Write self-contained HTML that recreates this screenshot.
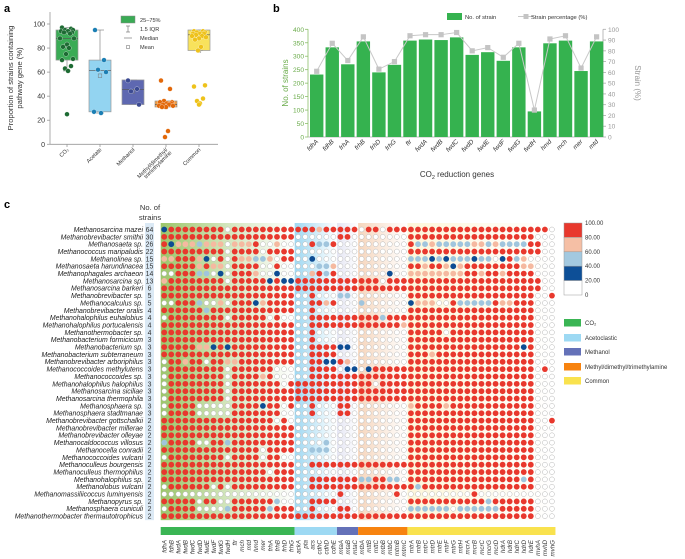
<!DOCTYPE html>
<html><head><meta charset="utf-8">
<style>
html,body{margin:0;padding:0;background:#fff;}
svg{display:block;font-family:"Liberation Sans",Arial,sans-serif;}
</style></head>
<body>
<svg id="fig" width="685" height="559" viewBox="0 0 685 559" xmlns="http://www.w3.org/2000/svg">
<defs>
<linearGradient id="gCO2" x1="0" x2="1" y1="0" y2="0"><stop offset="0" stop-color="#9cc66a"/><stop offset="0.5" stop-color="#d3e6bd"/><stop offset="1" stop-color="#ffffff"/></linearGradient>
<linearGradient id="gAc" x1="0" x2="1" y1="0" y2="0"><stop offset="0" stop-color="#9fd8f2"/><stop offset="1" stop-color="#ffffff"/></linearGradient>
<linearGradient id="gMe" x1="0" x2="1" y1="0" y2="0"><stop offset="0" stop-color="#e4e5f3"/><stop offset="1" stop-color="#ffffff"/></linearGradient>
<linearGradient id="gMy" x1="0" x2="1" y1="0" y2="0"><stop offset="0" stop-color="#f6d6bd"/><stop offset="1" stop-color="#ffffff"/></linearGradient>
<linearGradient id="gCm" x1="0" x2="1" y1="0" y2="0"><stop offset="0" stop-color="#fdf6da"/><stop offset="1" stop-color="#ffffff"/></linearGradient>
</defs>
<text x="4" y="12" font-size="11" font-weight="bold">a</text>
<text x="273" y="12" font-size="11" font-weight="bold">b</text>
<text x="4" y="208" font-size="11" font-weight="bold">c</text>
<g id="pa"></g>
<g id="pb"></g>
<g id="pc"></g>
</svg>
<script>
// ---------- Panel a data ----------
const aCategories = ["CO\u2082","Acetate","Methanol","Methyl/dimethyl/\ntrimethylamine","Common"];
const aQ1 = [70, 27, 33, 31, 78];
const aQ3 = [95, 70, 53.5, 36, 95];
const aMedian = [88, 61.5, 45.5, 33, 91];
const aMean = [82, 57, 44, 31, 78];
const aWhiskerLow = [61, 26, 33, 31, 78];
const aWhiskerHigh = [97, 95, 53.5, 36, 95];
const aPointsCO2 = [97,96,95,95,94,94,93,93,92,88,88,83,81,80,75,71,70,65,63,61,25];
const aPointsAcetate = [95,70,62,60,27,26];
const aPointsMethanol = [53,46,44,33];
const aPointsMethyl = [53,46,36,35,35,34,34,33,33,32,32,31,31,11,6];
const aPointsCommon = [94,94,93,93,92,92,92,91,90,90,89,88,87,81,78,49,48,38,36,34,33];
const aYTicks = [0,20,40,60,80,100];

// ---------- Panel b data ----------
const bGenes = ["fdhA","fdhB","frhA","frhB","frhD","frhG","ftr","fwdA","fwdB","fwdC","fwdD","fwdE","fwdF","fwdG","fwdH","hmd","mch","mer","mtd"];
const bCounts = [232,333,270,355,240,268,358,362,360,370,305,315,283,333,95,348,358,245,355];
const bPercent = [61,87,71,93,63,70,94,95,95,97,80,83,74,87,25,91,94,64,93];
const bLeftTicks = [0,50,100,150,200,250,300,350,400];
const bRightTicks = [0,10,20,30,40,50,60,70,80,90,100];

// ---------- Panel c data ----------
const cSpecies = ["Methanosarcina mazei","Methanobrevibacter smithii","Methanosaeta sp.","Methanococcus maripaludis","Methanolinea sp.","Methanosaeta harundinacea","Methanophagales archaeon","Methanosarcina sp.","Methanosarcina barkeri","Methanobrevibacter sp.","Methanocalculus sp.","Methanobrevibacter oralis","Methanohalophilus euhalobius","Methanohalophilus portucalensis","Methanothermobacter sp.","Methanobacterium formicicum","Methanobacterium sp.","Methanobacterium subterraneum","Methanobrevibacter arboriphilus","Methanococcoides methylutens","Methanococcoides sp.","Methanohalophilus halophilus","Methanosarcina siciliae","Methanosarcina thermophila","Methanosphaera sp.","Methanosphaera stadtmanae","Methanobrevibacter gottschalkii","Methanobrevibacter millerae","Methanobrevibacter olleyae","Methanocaldococcus villosus","Methanocella conradii","Methanococcoides vulcani","Methanoculleus bourgensis","Methanoculleus thermophilus","Methanohalophilus sp.","Methanolobus vulcani","Methanomassiliicoccus luminyensis","Methanopyrus sp.","Methanosphaera cuniculi","Methanothermobacter thermautotrophicus"];
const cCounts = [64,30,26,22,15,15,14,13,6,5,5,4,4,4,4,3,3,3,3,3,3,3,3,3,3,3,2,2,2,2,2,2,2,2,2,2,2,2,2,2];
const cGenes = ["fdhA","fdhB","fwdA","fwdB","fwdC","fwdD","fwdE","fwdF","fwdG","fwdH","ftr","mch","mtd","hmd","mer","frhA","frhB","frhD","frhG","ackA","pta","acs","cdhC","cdhD","cdhE","mtaA","mtaB","mtaC","mtbA","mttB","mttC","mtbB","mtbC","mtmB","mtmC","mtrA","mtrB","mtrC","mtrD","mtrE","mtrF","mtrG","mtrH","mcrA","mcrB","mcrC","mcrG","mcrD","hdrA","hdrB","hdrC","hdrD","hdrE","mvhA","mvhD","mvhG"];
const cGroups = ["CO2","Acetoclastic","Methanol","Methyl/dimethyl/trimethylamine","Common"];
const cGroupSizes = [19,6,3,7,21];
// percentage classes: R=80-100, P=60-80, L=40-60, B=20-40, W=0-20
const cMatrix = [
"BRRRRRRRRWRRRRRRRRR RRRPRR RRR WRRWRRR RRRRRRRRRRRRRRRRRRRRW",
"RRRRRRRRRRRRRRRRRRR WWWWWW RRW WWWWWWW RRRRRRRRRRRRRRRRRRWWW",
"RBPPPLPPPWPPPRWWPWW WWRLLR WWW WWWWWWW RLLPLLLLLPPLPLLLLRRWW",
"RRRRRRRRRWRRRRWRRRR WWWWWW WWW WWWWWWW RRRRRRRRRRRRRRRRRRRWW",
"PPRRRPBWRWRPPLLPWRR WWBWWW WWW WWWWWWW LLLBLBLLLBLLWBRLPWWWW",
"RRRRRPRPPWRRRRWWRWW WWWLLP WWW WWWWWWW RRPRRPBPRRRRRRRRPPWWW",
"WWRRRLLWBWRRRPWWBWW WWPRLR WWW WWWWBWW PPPPPPPPRRPRRPRRRRWWW",
"PRRRRRRRRWRRRRRBRBB RRRRRR RRR RRRWRRR RRRRRRRRRRRRRRRRRRRWW",
"RRRRRRRRRRRRRRRRRRR RRRRRR RRR RRRRRRR RRRRRRRRRRRRRRRRRRRWW",
"RRRRRRRRRRRRRRRRRRR WWRWWW LLW WWWWWWW RRRRRRRRRRRRRRRRRRWWR",
"WWRRRLWWPWRRRBPRRRR WWRRPR WWW LWWWWWW BPPPWWRLLLLLRPPRRRWWW",
"RRRRRRLRRRRRRRRRRRR WWRWWW WWW WWWWWWW RRRRRRRRRRRRRRRRRRWWW",
"WRRRRRRRRWRRRRRWRWW WWRRRR RRR RRRLRRR RRRRRRRRRRRRRRRRRRWWW",
"RRRRRRRRRRRRRRRRRRR WWRRRR RRR RRRRRRP RRRRRRRRRRRRRRRRRRWWW",
"RRRRRRRRRRRRRRRRRRR WWRWWW WWW WWWWWWW RRRRRWRRRRRRRRRRRRWWW",
"RRRRRRRRRRRRRRRRRRR WWRWWW WWW WWWWWWW RRRRRRRRRRRRRRRRRRWWW",
"RRRRRPPBRBRRRRRRRRR WWRRRR BBW WWWWWWW RRRRRRRRRRRRRRRRBRWWW",
"RRRRRRRRRRRRRRRRRRR WWRRRR WWW WWWWWWW RRRPRRRRRRRRRRRRRRWWW",
"WRRPRRWRRPPRRRRRRRR WWRRBB RPW WWWWWWW RRRRRRRRRRRRRRRRRRWWW",
"WRRRRRRRRWRRRRRRWWW WWRRRR WBB WBRRRRR RRRRRRRRRRRRRRRRRRWRW",
"WRRRRRRRRWRRRRPRWWW WWRRRR RRR RRRRRRR RRRRRRRRRRRRRRRRRRWWW",
"WRRRRRRRRWRRRRRRRWR RRRRRR RRR RRWRRRR RRRRRRRRRRRRRRRRRRWWW",
"WRRRRRRRRWRRRRRRRRR RRRRRR RRR RRRRRRR RRRRRRRRRRRRRRRRRRWWW",
"WRRRRRRRRWRRRRRRRRR RRRRRR RRR RRRRRRR RRRRRRRRRRRRRRRRRRWWW",
"WRRRRWWWWWRRRRBRRWR WWRWWW RRW WWWWWWW PRRRRPRRRRRRRRRRRRWWW",
"WRRRRWWWWWRRRRRRRWW WWRWWW RRW WWWWWWW RRRRRRRRRRRRRRRRRRWWW",
"RRRRRRRRRRRRRRRRWRW WWWWWW WWW WWWWWWW RRRRRRRRRRRRRRRRRRWWR",
"RRRRRRRRRRRRRRRRRRR WWWWWW WWW WWWWWWW RRRRRRRRRRRRRRRRRRWWW",
"RRRRRRRRRRRRRRRRRRR WWWWWW WWW WWWWWWW RRRRRRRRRRRRRRRRRRWWW",
"LRRRRWWRRLRRRRRRRRR WWWWLW WWW WWWWWWW RRRRRRRRRRRRRRRRRRWWW",
"RRRRRRRRRRRRRRWRRRR WWLLLW WWW WWWWWWW RRRRRRRRRRRRRRRRRRWWW",
"WRRRRRRRRWRRRRWRRWW WWWWWW WWW WWWWWWW RRRRRRRRRRRRRRRRRRWWW",
"RRRRRRRRRRRRRRRRRRR WWRRRR RRR RRRRRRR RRRRRRRRRRRRRRRRRRWWW",
"RRRRRRRRRRRRRRRWRRR WWWWWW WWW WWWWWWW RRRRRRRRRRRRRRRRRRWWW",
"RRRRRRRRRRRRRRRRRRR WWRRRR RRR LLRRLLW RRRRRRRRRRRRRRRRLRWWW",
"WRRRRRRWRWRRRRRRRRR WWRRRR RRR RRRRRRR RLRRRRRRRRRRRRRRRRWWW",
"WWWWWWWWWWWWWWWWWWW WWWWWW RWW WWWWWRW WWWWWWWWWRWWWWWWWWWWW",
"RRRRRWRRWWRRRRRRLWW WWRRRR WWW WWWWWWW RRRRRRRRRRRLRRRRRRWWW",
"WRRRRWWWWLRRRRRLRRR WWRWWW RRW WWWWWWW LLLLLLWLLLLLLRRRRRWWW",
"RRRRRRRRRRRRRRRRRRR RRRRRR RRR RRRRRRR RRRRRRRRRRRRRRRRRRWWW"
];
const cScaleLabels = ["100.00","80.00","60.00","40.00","20.00","0"];

// ---------- helpers ----------
const NS="http://www.w3.org/2000/svg";
function mk(parent, tag, attrs, txt){
  const e=document.createElementNS(NS,tag);
  for(const k in attrs) e.setAttribute(k,attrs[k]);
  if(txt!==undefined) e.textContent=txt;
  parent.appendChild(e); return e;
}

// ---------- Panel a ----------
(function(){
  const g=document.getElementById('pa');
  const x0=50, x1=218, yTop=12;
  const ya=v=>144.3 - v*1.203;
  const xa=i=>67 + i*33;
  let e=mk(g,'line',{x1:x0,y1:yTop,x2:x0,y2:144.3,stroke:'#999','stroke-width':0.8});
   
  e=mk(g,'line',{x1:x0,y1:144.3,x2:x1,y2:144.3,stroke:'#999','stroke-width':0.8});
   
  aYTicks.forEach(t=>{
    mk(g,'line',{x1:x0-3,y1:ya(t),x2:x0,y2:ya(t),stroke:'#999','stroke-width':0.8});
    e=mk(g,'text',{x:x0-5,y:ya(t)+2.5,'font-size':7,'text-anchor':'end',fill:'#333'},String(t));
     
  });
  e=mk(g,'text',{transform:'translate(13,78) rotate(-90)','font-size':7.6,'text-anchor':'middle',fill:'#333'},'Proportion of strains containing');
   
  e=mk(g,'text',{transform:'translate(22,78) rotate(-90)','font-size':7.6,'text-anchor':'middle',fill:'#333'},'pathway gene (%)');
   
  const fills=['#3aab55','#93d4f1','#5e68b1','#f39a3c','#f8e25c'];
  const dots=['#1d6b33','#1b7fb4','#3b4a92','#e2680a','#eec21a'];
  const pts=[aPointsCO2,aPointsAcetate,aPointsMethanol,aPointsMethyl,aPointsCommon];
  const jit=[-5,4,-2,6,-6,1,5,-3,3,-7,7,0,-4,2,-1,6,-5,4,-2,1,0];
  aCategories.forEach((c,i)=>{
    const cx=xa(i), w=11;
    e=mk(g,'line',{x1:cx,y1:ya(aWhiskerHigh[i]),x2:cx,y2:ya(aWhiskerLow[i]),stroke:'#888','stroke-width':0.7});
     
    [aWhiskerHigh[i],aWhiskerLow[i]].forEach(v=>mk(g,'line',{x1:cx-4,y1:ya(v),x2:cx+4,y2:ya(v),stroke:'#888','stroke-width':0.7}));
    e=mk(g,'rect',{x:cx-w,y:ya(aQ3[i]),width:2*w,height:ya(aQ1[i])-ya(aQ3[i]),fill:fills[i],stroke:'#999','stroke-width':0.7});
     
    e=mk(g,'line',{x1:cx-w,y1:ya(aMedian[i]),x2:cx+w,y2:ya(aMedian[i]),stroke:'#555','stroke-width':0.7});
     
    e=mk(g,'rect',{x:cx-1.8,y:ya(aMean[i])-1.8,width:3.6,height:3.6,fill:'none',stroke:'#777','stroke-width':0.5});
     
    pts[i].forEach((v,k)=>{
      e=mk(g,'circle',{cx:cx+jit[k%jit.length],cy:ya(v),r:2.4,fill:dots[i],stroke:'#fff','stroke-width':0.3});
       
    });
    mk(g,'line',{x1:cx,y1:144.3,x2:cx,y2:147,stroke:'#999','stroke-width':0.8});
    const lines=c.split('\n');
    lines.forEach((ln,j)=>{
      e=mk(g,'text',{transform:`translate(${cx+2+j*4},${150+j*3}) rotate(-45)`,'font-size':5.6,'text-anchor':'end',fill:'#333'},ln);
       
    });
  });
  // legend
  e=mk(g,'rect',{x:121,y:16,width:14,height:7,fill:'#3aab55',stroke:'#888','stroke-width':0.5});
   
  mk(g,'text',{x:140,y:22,'font-size':5.6,fill:'#333'},'25\u201375%');
  mk(g,'line',{x1:128,y1:26,x2:128,y2:32,stroke:'#666','stroke-width':0.6});
  mk(g,'line',{x1:126,y1:26,x2:130,y2:26,stroke:'#666','stroke-width':0.6});
  mk(g,'line',{x1:126,y1:32,x2:130,y2:32,stroke:'#666','stroke-width':0.6});
  mk(g,'text',{x:140,y:31,'font-size':5.6,fill:'#333'},'1.5 IQR');
  mk(g,'line',{x1:124,y1:38,x2:132,y2:38,stroke:'#666','stroke-width':0.6});
  mk(g,'text',{x:140,y:40,'font-size':5.6,fill:'#333'},'Median');
  mk(g,'rect',{x:126.5,y:45.5,width:3,height:3,fill:'none',stroke:'#666','stroke-width':0.5});
  mk(g,'text',{x:140,y:49,'font-size':5.6,fill:'#333'},'Mean');
})();

// ---------- Panel b ----------
(function(){
  const g=document.getElementById('pb');
  const xl=308, xr=603, y0=137, yT=29.3;
  const yL=v=>y0-(v/400)*(y0-yT);
  const yR=v=>y0-(v/100)*(y0-yT);
  const xb=i=>316.7+i*15.55;
  let e;
  mk(g,'line',{x1:xl,y1:yT,x2:xl,y2:y0,stroke:'#8cbf6a','stroke-width':0.8});
  mk(g,'line',{x1:xr,y1:yT,x2:xr,y2:y0,stroke:'#aaa','stroke-width':0.8});
  mk(g,'line',{x1:xl,y1:y0,x2:xr,y2:y0,stroke:'#aaa','stroke-width':0.8});
  bLeftTicks.forEach(t=>{
    mk(g,'line',{x1:xl-3,y1:yL(t),x2:xl,y2:yL(t),stroke:'#8cbf6a','stroke-width':0.8});
    e=mk(g,'text',{x:xl-4,y:yL(t)+2.5,'font-size':6.6,'text-anchor':'end',fill:'#6aab4a'},String(t));
     
  });
  bRightTicks.forEach(t=>{
    mk(g,'line',{x1:xr,y1:yR(t),x2:xr+3,y2:yR(t),stroke:'#aaa','stroke-width':0.8});
    e=mk(g,'text',{x:xr+5,y:yR(t)+2.5,'font-size':6.6,fill:'#999'},String(t));
     
  });
  e=mk(g,'text',{transform:'translate(288,83) rotate(-90)','font-size':8,'text-anchor':'middle',fill:'#6aab4a'},'No. of strains');
   
  e=mk(g,'text',{transform:'translate(635,83) rotate(90)','font-size':8,'text-anchor':'middle',fill:'#999'},'Strain (%)');
   
  bGenes.forEach((gn,i)=>{
    e=mk(g,'rect',{x:xb(i)-6.7,y:yL(bCounts[i]),width:13.4,height:y0-yL(bCounts[i]),fill:'#35b24f'});
     
    e=mk(g,'text',{transform:`translate(${xb(i)+2},${142}) rotate(-45)`,'font-size':6.4,'font-style':'italic','text-anchor':'end',fill:'#333'},gn);
     
  });
  const pts=bPercent.map((v,i)=>xb(i)+','+yR(v)).join(' ');
  e=mk(g,'polyline',{points:pts,fill:'none',stroke:'#c8c8c8','stroke-width':1});
   
  bPercent.forEach((v,i)=>{
    e=mk(g,'rect',{x:xb(i)-2.6,y:yR(v)-2.6,width:5.2,height:5.2,fill:'#c4c4c4'});
     
  });
  e=mk(g,'text',{x:457,y:177,'font-size':8,'text-anchor':'middle',fill:'#333'},'');
   
  e.innerHTML='CO<tspan font-size="5.5" dy="2">2</tspan><tspan dy="-2"> reduction genes</tspan>';
  // legend
  e=mk(g,'rect',{x:447,y:13,width:15,height:7,fill:'#35b24f'});
   
  mk(g,'text',{x:465,y:19,'font-size':5.8,fill:'#333'},'No. of strain');
  mk(g,'line',{x1:518,y1:16.5,x2:534,y2:16.5,stroke:'#c8c8c8','stroke-width':1});
  e=mk(g,'rect',{x:523.5,y:14,width:5,height:5,fill:'#c4c4c4'});
   
  mk(g,'text',{x:531,y:19,'font-size':5.8,fill:'#333'},'Strain percentage (%)');
})();

// ---------- Panel c ----------
(function(){
  const g=document.getElementById('pc');
  const colX=j=>164.2+j*7.05;
  const rowY=i=>229.5+i*7.35;
  const nCols=cGenes.length;
  const bgIds=['gCO2','gAc','gMe','gMy','gCm'];
  const barCols=['#3ab554','#9dd9f3','#6471b8','#f7830f','#f9e24e'];
  let e, start=0;
  const top=223, bottom=rowY(cSpecies.length-1)+4;
  cGroupSizes.forEach((n,k)=>{
    const xa=colX(start)-3.5, xb=colX(start+n-1)+3.5;
    e=mk(g,'rect',{x:xa,y:top,width:xb-xa,height:bottom-top,fill:`url(#${bgIds[k]})`});
     
    e=mk(g,'rect',{x:xa,y:527,width:xb-xa,height:8,fill:barCols[k]});
     
    start+=n;
  });
  e=mk(g,'rect',{x:145,y:top,width:9,height:bottom-top,fill:'#dbe9f5'});
   
  mk(g,'text',{x:150,y:210,'font-size':7.6,'text-anchor':'middle',fill:'#333'},'No. of');
  mk(g,'text',{x:150,y:220,'font-size':7.6,'text-anchor':'middle',fill:'#333'},'strains');
  const colorMap={R:'#e8382d',P:'#f5b9a0',L:'#a0c5dd',B:'#0d4c93',W:'#ffffff'};
  cSpecies.forEach((sp,i)=>{
    const y=rowY(i);
    e=mk(g,'text',{x:143,y:y+2.4,'font-size':6.9,'font-style':'italic','text-anchor':'end',fill:'#222'},sp);
     
    e=mk(g,'text',{x:149.5,y:y+2.4,'font-size':6.9,'text-anchor':'middle',fill:'#333'},String(cCounts[i]));
     
    const row=(cMatrix[i]||'').replace(/\s/g,'');
    for(let j=0;j<nCols;j++){
      const ch=row[j]||'W';
      const isW=ch==='W';
      e=mk(g,'circle',{cx:colX(j),cy:y,r:isW?2.5:2.9,fill:colorMap[ch]||'#fff',stroke:isW?'#b5b5b5':'none','stroke-width':0.5});
      
      
    }
  });
  cGenes.forEach((gn,j)=>{
    e=mk(g,'text',{transform:`translate(${colX(j)+2.3},${540}) rotate(-90)`,'font-size':6.2,'font-style':'italic','text-anchor':'end',fill:'#333'},gn);
     
  });
  // color scale legend
  const scaleCols=['#e8382d','#f5bfa5','#a3c9e0','#0d4f97','#ffffff'];
  scaleCols.forEach((c,k)=>{
    e=mk(g,'rect',{x:564,y:223+k*14.4,width:18,height:14.4,fill:c,stroke:'#999','stroke-width':0.5});
     
  });
  cScaleLabels.forEach((l,k)=>{
    e=mk(g,'text',{x:585,y:225+k*14.4,'font-size':6,fill:'#333'},l);
     
  });
  const legNames=['CO\u2082','Acetoclastic','Methanol','Methyl/dimethyl/trimethylamine','Common'];
  const legY=[319,334,348,363,377];
  legNames.forEach((n,k)=>{
    e=mk(g,'rect',{x:564,y:legY[k],width:17,height:7.5,fill:barCols[k]});
     
    e=mk(g,'text',{x:585,y:legY[k]+6,'font-size':6,fill:'#333'},n);
     
  });
})();
</script>
</body></html>
